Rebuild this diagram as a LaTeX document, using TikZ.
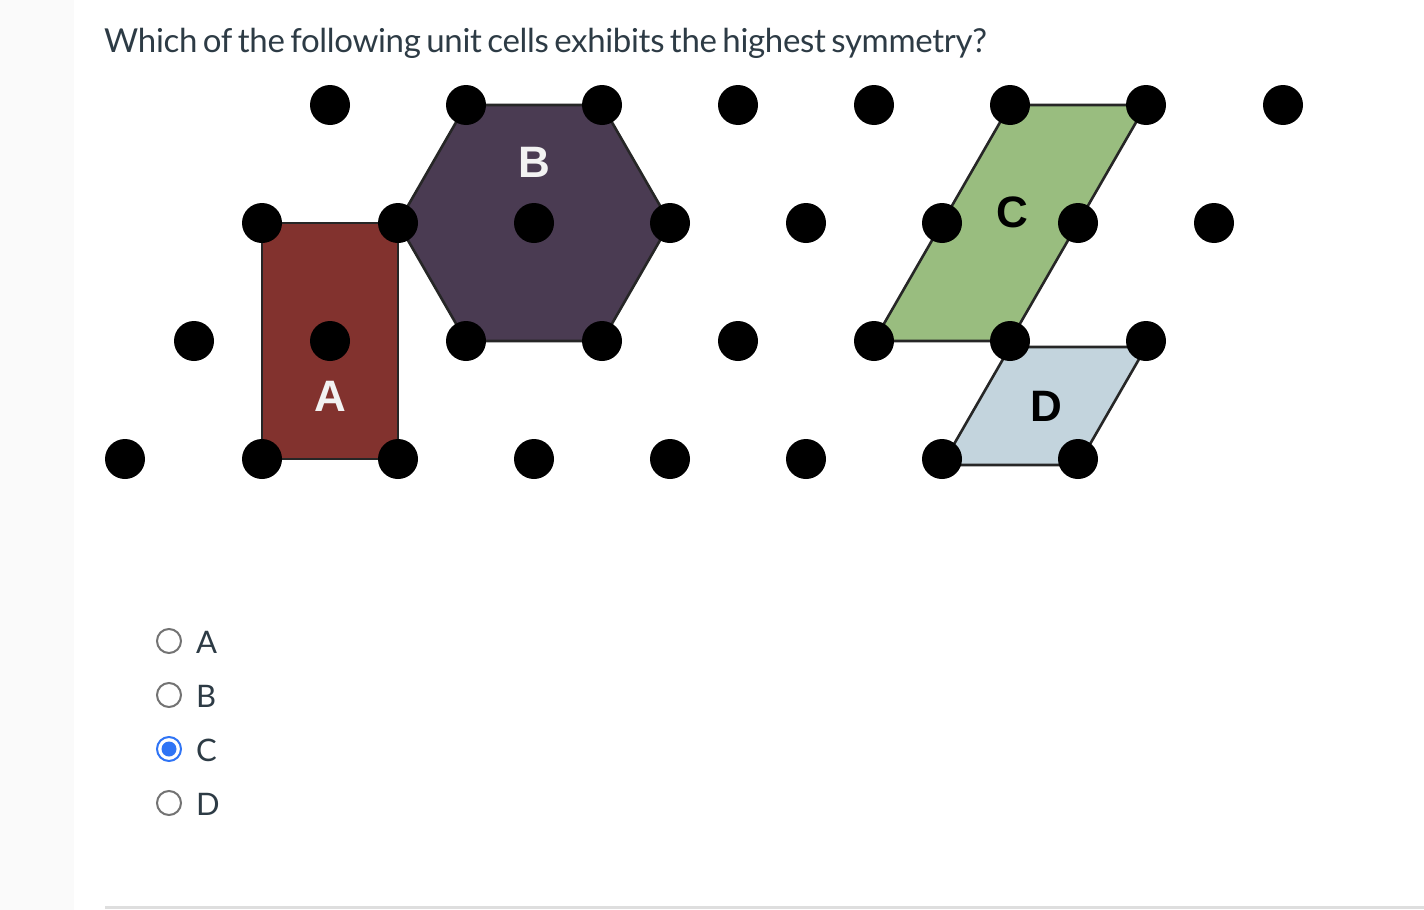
\documentclass[tikz,border=0pt]{standalone}
\usepackage{fontspec}
\setmainfont{Lato}
\newfontfamily\titlefont[LetterSpace=-1, WordSpace=0.67]{Lato}
\newfontfamily\cellfont{Liberation Sans}
\usepackage{xcolor}
\definecolor{inkgray}{HTML}{2D3B45}
\definecolor{redcell}{HTML}{82322E}
\definecolor{purplecell}{HTML}{4A3B52}
\definecolor{greencell}{HTML}{99BD7F}
\definecolor{bluecell}{HTML}{C3D4DD}
\definecolor{radioblue}{HTML}{2F74F5}
\tikzset{
	dot/.style = {circle, fill=black, inner sep=0pt, minimum size=40pt},
	cell/.style = {draw=black!85, line width=2.6pt, line join=round},
	celltext/.style = {font=\fontsize{44}{44}\selectfont\cellfont\bfseries},
	radio/.style = {circle, draw=black!55, line width=2pt, fill=white, inner sep=0pt, minimum size=24pt},
	answer/.style = {anchor=base west, text=inkgray, inner sep=0pt, font=\fontsize{31}{31}\selectfont}
}
\begin{document}
\begin{tikzpicture}[x=1pt, y=-1pt]
		\useasboundingbox (0,0) rectangle (1424,910);
		\fill[black!2] (0,0) rectangle (74,910);
		\fill[black!13] (105,906) rectangle (1424,909);
		\node[anchor=base west, text=inkgray, inner sep=0pt, font=\fontsize{33}{33}\selectfont\titlefont] (question) at (104,52) {Which of the following unit cells exhibits the highest symmetry?};

		% lattice points, one row at a time
		\foreach \n/\x in {1/330, 2/466, 3/602, 4/738, 5/874, 6/1010, 7/1146, 8/1283}
			\coordinate (a\n) at (\x,105);
		\foreach \n/\x in {1/262, 2/398, 3/534, 4/670, 5/806, 6/942, 7/1078, 8/1214}
			\coordinate (b\n) at (\x,223);
		\foreach \n/\x in {1/194, 2/330, 3/466, 4/602, 5/738, 6/874, 7/1010, 8/1146}
			\coordinate (c\n) at (\x,341);
		\foreach \n/\x in {1/125, 2/262, 3/398, 4/534, 5/670, 6/806, 7/942, 8/1078}
			\coordinate (d\n) at (\x,459);

		% unit cells
		\draw[cell, fill=redcell] (b1) -- (b2) -- (d3) -- (d2) -- cycle;
		\draw[cell, fill=purplecell] (a2) -- (a3) -- (b4) -- (c4) -- (c3) -- (b2) -- cycle;
		\draw[cell, fill=greencell] (a6) -- (a7) -- (c7) -- (c6) -- cycle;
		\draw[cell, fill=bluecell] ([yshift=-6pt]c7) -- ([yshift=-6pt]c8) -- ([yshift=-6pt]d8) -- ([yshift=-6pt]d7) -- cycle;

		\foreach \n in {1,...,8} {
			\node[dot] at (a\n) {};
			\node[dot] at (b\n) {};
			\node[dot] at (c\n) {};
			\node[dot] at (d\n) {};
		}

		\node[celltext, text=white!95!black] (labela) at (330,396) {A};
		\node[celltext, text=white!95!black] (labelb) at (534,162) {B};
		\node[celltext, text=black] (labelc) at (1012,212) {C};
		\node[celltext, text=black] (labeld) at (1046,406) {D};

		% answer choices
		\node[radio] (radioa) at (169,641) {};
		\node[radio] (radiob) at (169,695) {};
		\node[radio, draw=radioblue] (radioc) at (169,749) {};
		\node[radio] (radiod) at (169,803) {};
		\fill[radioblue] (radioc) circle (7.5);
		\node[answer] (answera) at (196,653) {A};
		\node[answer] (answerb) at (196,707) {B};
		\node[answer] (answerc) at (196,761) {C};
		\node[answer] (answerd) at (196,815) {D};
	\end{tikzpicture}
\end{document}
